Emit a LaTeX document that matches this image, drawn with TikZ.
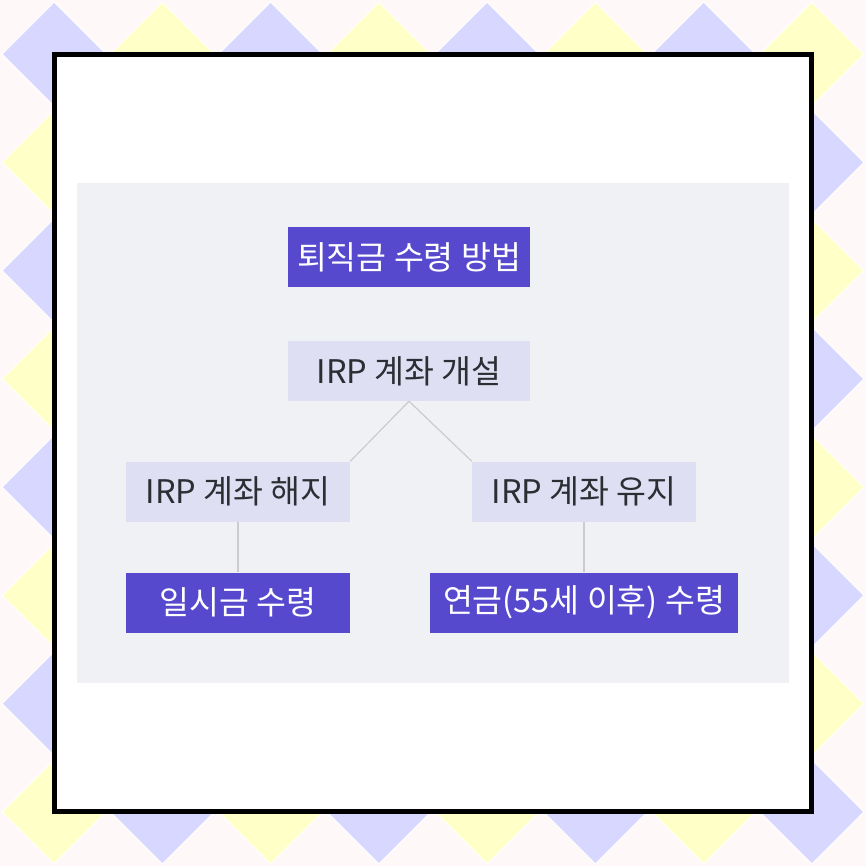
\documentclass[tikz,border=0pt]{standalone}
\usepackage{fontspec}
\setmainfont{Noto Sans CJK KR}
\usepackage{xcolor}
\usepackage{tikz}
\usetikzlibrary{positioning,calc}
\definecolor{bgpink}{RGB}{255,248,248}
\definecolor{tilelav}{RGB}{215,215,255}
\definecolor{tileyel}{RGB}{255,255,200}
\definecolor{panelgray}{RGB}{240,241,245}
\definecolor{irppurple}{RGB}{86,73,206}
\definecolor{irplight}{RGB}{223,223,243}
\definecolor{irptext}{RGB}{45,45,52}
\definecolor{linkgray}{RGB}{204,204,208}

\begin{document}
\begin{tikzpicture}[x=1pt,y=-1pt,
    darkbox/.style={fill=irppurple,text=white,inner sep=0pt,minimum height=60pt,
      font=\fontsize{32.5}{38}\selectfont},
    lightbox/.style={fill=irplight,text=irptext,inner sep=0pt,minimum height=60pt,
      font=\fontsize{32.5}{38}\selectfont},
    link/.style={draw=linkgray,line width=1.2pt}]
    \useasboundingbox (0,0) rectangle (866,866);
    \fill[bgpink] (0,0) rectangle (866,866);
    % checkered diamonds behind the frame
    \foreach \i in {0,...,7}{
      \foreach \j in {0,...,7}{
        \pgfmathtruncatemacro{\k}{mod(\i+\j,2)}
        \ifnum\k=0 \def\tone{tilelav}\else\def\tone{tileyel}\fi
        \filldraw[fill=\tone,draw=white,line width=1pt]
          ({(\i+0.5)*108.25},{(\j+0.5)*108.25}) +(0,-52) -- +(52,0) -- +(0,52) -- +(-52,0) -- cycle;
      }
    }
    \filldraw[fill=white,draw=black,line width=4.5pt] (54.5,54.5) rectangle (811.5,811.5);
    \fill[panelgray] (77,183) rectangle (789,683);

    \node[darkbox,minimum width=242pt] (title) at (409,257) {퇴직금 수령 방법};
    \node[lightbox,minimum width=242pt] (open) at (409,371) {IRP 계좌 개설};
    \node[lightbox,minimum width=224pt] (cancel) at (238,491.5) {IRP 계좌 해지};
    \node[lightbox,minimum width=224pt] (keep) at (584,491.5) {IRP 계좌 유지};
    \node[darkbox,minimum width=224pt] (lump) at (238,602.5) {일시금 수령};
    \node[darkbox,minimum width=308pt] (pension) at (584,602.5) {연금(55세 이후) 수령};

    \draw[link] (open.south) -- (cancel.north east);
    \draw[link] (open.south) -- (keep.north west);
    \draw[link] (cancel.south) -- (lump.north);
    \draw[link] (keep.south) -- (pension.north);
\end{tikzpicture}
\end{document}
